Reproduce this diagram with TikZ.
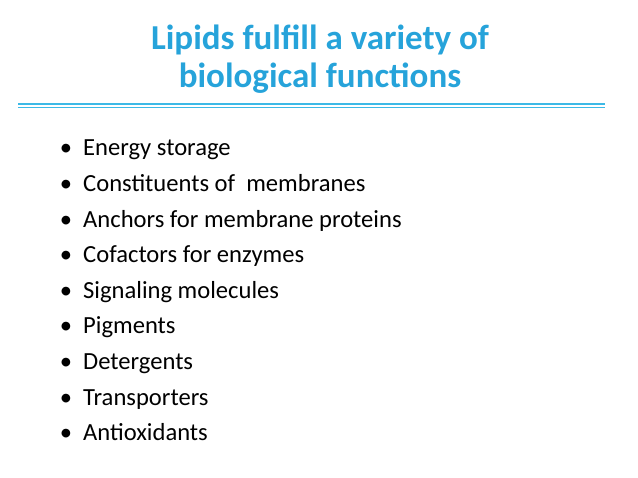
\documentclass[tikz,border=0pt]{standalone}
\usepackage{fontspec}
\setmainfont{Carlito}
\definecolor{ttl}{RGB}{38,163,218}
\definecolor{rule}{RGB}{60,185,230}
\begin{document}
\begin{tikzpicture}[x=1pt,y=-1pt,
  itm/.style={anchor=base west,font=\fontsize{24.6}{28}\selectfont,inner sep=0pt},
  bul/.style={anchor=base,font=\fontsize{24.6}{28}\selectfont,inner sep=0pt},
  ttlstyle/.style={anchor=base,font=\bfseries\fontsize{35}{40}\selectfont,text=ttl,inner sep=0pt}]
\useasboundingbox (0,0) rectangle (638,478);
\node[ttlstyle] (title1) at (320,50) {Lipids fulfill a variety of};
\node[ttlstyle] (title2) at (320,88) {biological functions};
\draw[rule,line width=1.2pt] (18,104) -- (605,104);
\draw[rule,line width=0.8pt] (18,107) -- (605,107);
\foreach \t [count=\i] in {Energy storage,Constituents of\ \ membranes,Anchors for membrane proteins,Cofactors for enzymes,Signaling molecules,Pigments,Detergents,Transporters,Antioxidants}{
  \node[bul] (b\i) at (66,156+35.6*\i-35.6) {•};
  \node[itm] (t\i) at (83,156+35.6*\i-35.6) {\t};
}
\end{tikzpicture}
\end{document}
